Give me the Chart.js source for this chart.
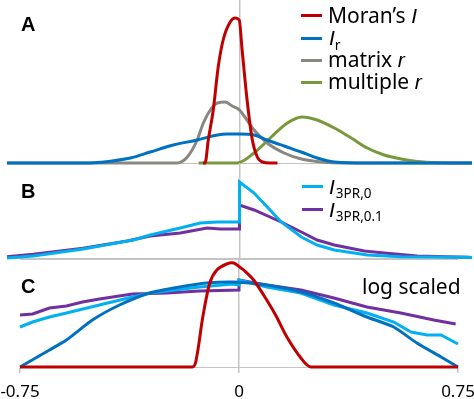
<!DOCTYPE html>
<html>
<head>
<meta charset="utf-8">
<script src="https://cdn.jsdelivr.net/npm/chart.js"></script>
<style>
  html, body { margin: 0; padding: 0; background: #fff; overflow: hidden; }
  #wrap { position: relative; width: 474px; height: 399px; font-family: "Noto Sans", sans-serif; color: #000; }
  #wrap canvas { position: absolute; left: 0; }
  .lbl { position: absolute; font: bold 20px "Liberation Sans", Arial, sans-serif; line-height: 1; }
  .leg { position: absolute; font-size: 21px; line-height: 1; white-space: nowrap; }
  .leg i { font-style: italic; font-family: "Liberation Sans", Arial, sans-serif; }
  .sub { font-size: 14px; position: relative; top: 5px; }
  .sub3 { font-size: 13.5px; position: relative; top: 4px; margin-left: 1px; }
  .sw { position: absolute; width: 21px; height: 3px; }
</style>
</head>
<body>
<div id="wrap">
  <canvas id="chartA" width="474" height="170" style="top:0"></canvas>
  <canvas id="chartB" width="474" height="110" style="top:156px"></canvas>
  <canvas id="chartC" width="474" height="160" style="top:252px"></canvas>

  <div class="lbl" style="left:21px;top:14px">A</div>
  <div class="lbl" style="left:21px;top:181px">B</div>
  <div class="lbl" style="left:21px;top:276px">C</div>

  <!-- legend A -->
  <div class="sw" style="left:301px;top:14px;background:#C00000"></div>
  <div class="sw" style="left:301px;top:37px;background:#0070C0"></div>
  <div class="sw" style="left:301px;top:59px;background:#888880"></div>
  <div class="sw" style="left:301px;top:81px;background:#77993C"></div>
  <div class="leg" style="left:328px;top:5px">Moran’s <i>I</i></div>
  <div class="leg" style="left:329px;top:27px"><i>I</i><span class="sub">r</span></div>
  <div class="leg" style="left:328px;top:49px">matrix <i>r</i></div>
  <div class="leg" style="left:328px;top:71px">multiple <i>r</i></div>

  <!-- legend B -->
  <div class="sw" style="left:302px;top:185px;background:#00B0F0"></div>
  <div class="sw" style="left:302px;top:208px;background:#7030A0"></div>
  <div class="leg" style="left:329px;top:176px"><i>I</i><span class="sub3">3PR,0</span></div>
  <div class="leg" style="left:329px;top:199px"><i>I</i><span class="sub3">3PR,0.1</span></div>

  <div class="leg" style="left:362px;top:276px">log scaled</div>
</div>

<script>
/* ---------- DATA ---------- */
// panel A (densities)
const moranAX = [-0.125, -0.118, -0.107, -0.09, -0.073, -0.056, -0.032, -0.015, -0.001, 0.009, 0.026, 0.044, 0.061, 0.078, 0.105, 0.13];
const moranAY = [0, 0, 23, 53, 96, 123, 141, 145, 143, 113, 63, 23, 6, 1, 0, 0];
const irAX = [-0.797, -0.512, -0.477, -0.374, -0.306, -0.227, -0.145, -0.076, -0.042, 0.002, 0.05, 0.095, 0.153, 0.212, 0.266, 0.325, 0.438, 0.797];
const irAY = [0, 0, 0.7, 5, 11, 18, 23, 28, 29, 29, 28, 23, 17, 11, 5, 1, 0, 0];
const matrixAX = [-0.797, -0.214, -0.179, -0.145, -0.124, -0.1, -0.076, -0.049, -0.025, 0, 0.016, 0.05, 0.095, 0.153, 0.212, 0.28, 0.349, 0.797];
const matrixAY = [0, 0, 6, 23, 40, 53, 60, 61, 57, 53, 47, 33, 20, 10, 4, 1, 0, 0];
const multipleAX = [-0.14, -0.008, 0.05, 0.109, 0.164, 0.215, 0.266, 0.325, 0.383, 0.438, 0.496, 0.554, 0.609, 0.692, 0.797];
const multipleAY = [0, 0, 10, 26, 40, 46, 43, 35, 25, 15, 8, 4, 1.5, 0.3, 0];

// panel B
const i3pr0BX = [-0.797, -0.707, -0.536, -0.364, -0.306, -0.203, -0.135, -0.076, 0, 0, 0.05, 0.095, 0.143, 0.212, 0.266, 0.325, 0.438, 0.554, 0.78, 0.797];
const i3pr0BY = [0, 2, 9, 18, 23, 30, 35, 36, 36, 76, 65, 51, 36, 21, 13, 8, 3, 1.3, 0.7, 0.5];
const i3pr01BX = [-0.797, -0.707, -0.536, -0.385, -0.306, -0.203, -0.111, -0.066, 0, 0, 0.05, 0.143, 0.212, 0.266, 0.325, 0.428, 0.496, 0.609, 0.78, 0.797];
const i3pr01BY = [1.3, 3.7, 9.7, 17, 22, 25, 30, 29, 29, 53, 48, 36, 26, 18, 13, 7, 5, 2, 0.7, 0.5];

// panel C (log scaled)
const moranCX = [-0.75, -0.159, -0.145, -0.124, -0.1, -0.076, -0.042, -0.018, 0.002, 0.016, 0.05, 0.095, 0.129, 0.164, 0.212, 0.246, 0.75];
const moranCY = [0, 0, 10, 50, 84, 97, 103, 104, 100, 97, 87, 67, 50, 30, 9, 0, 0];
const irCX = [-0.75, -0.649, -0.591, -0.502, -0.409, -0.306, -0.203, -0.111, -0.018, 0.095, 0.212, 0.325, 0.438, 0.53, 0.609, 0.692, 0.75];
const irCY = [0, 17, 27, 47, 62, 74, 80, 84, 85, 82, 75, 64, 50, 40, 24, 10, 0];
const i3pr0CX = [-0.75, -0.707, -0.649, -0.591, -0.478, -0.365, -0.306, -0.248, -0.135, -0.021, 0, 0, 0.095, 0.212, 0.325, 0.438, 0.53, 0.589, 0.644, 0.692, 0.75];
const i3pr0CY = [40, 45, 50, 54, 62, 70, 74, 76, 80, 83, 82, 87, 80, 74, 62, 54, 45, 35, 32, 32, 23];
const i3pr01CX = [-0.75, -0.707, -0.649, -0.591, -0.536, -0.478, -0.365, -0.248, -0.135, 0, 0, 0.095, 0.212, 0.325, 0.438, 0.554, 0.667, 0.742];
const i3pr01CY = [52, 53, 59, 61, 65, 68, 73, 74, 76, 77, 87, 82, 77, 69, 60, 54, 47, 43];

const xTicksC = [-0.75, 0, 0.75];

/* ---------- HELPERS ---------- */
const zip = (xs, ys) => xs.map((x, i) => ({ x: x, y: ys[i] }));
const GRID = '#c4c4c4';

function line(xs, ys, color, smooth) {
  return {
    data: zip(xs, ys),
    borderColor: color,
    borderWidth: 3,
    pointRadius: 0,
    fill: false,
    clip: 6,
    tension: smooth === 'mono' ? 0 : (smooth || 0),
    cubicInterpolationMode: smooth === 'mono' ? 'monotone' : 'default'
  };
}

function makeChart(id, datasets, o) {
  return new Chart(document.getElementById(id), {
    type: 'line',
    data: { datasets: datasets },
    options: {
      responsive: false,
      animation: false,
      events: [],
      layout: { padding: o.padding },
      plugins: { legend: { display: false }, tooltip: { enabled: false } },
      scales: {
        x: {
          type: 'linear',
          min: o.xMin,
          max: o.xMax,
          afterBuildTicks: s => { s.ticks = o.xTicks.map(v => ({ value: v })); },
          // edge labels may overhang; keep the plot width fixed by layout padding
          afterFit: s => {
            s.paddingLeft = 0;
            s.paddingRight = 0;
            if (o.axisHeight !== undefined) s.height = o.axisHeight;
          },
          grid: {
            color: c => (c.tick && c.tick.value === 0) ? GRID : 'rgba(0,0,0,0)',
            lineWidth: 1.5,
            drawTicks: o.labels,
            tickLength: 6,
            tickColor: GRID,
            tickWidth: 1.5
          },
          border: { display: true, color: GRID, width: 1 },
          ticks: {
            display: o.labels,
            color: '#000',
            padding: 9,
            maxRotation: 0,
            font: { family: '"Noto Sans", sans-serif', size: 17 },
            callback: v => String(v)
          }
        },
        y: {
          display: o.topLine,
          min: 0,
          max: o.yMax,
          afterBuildTicks: s => { s.ticks = [{ value: o.yMax }]; },
          grid: { color: GRID, drawTicks: false, lineWidth: 1 },
          border: { display: false },
          ticks: { display: false }
        }
      }
    }
  });
}

/* ---------- CHARTS ---------- */
makeChart('chartA', [
  line(moranAX, moranAY, '#C00000', 'mono'),
  line(irAX, irAY, '#0070C0', 'mono'),
  line(matrixAX, matrixAY, '#888880', 'mono'),
  line(multipleAX, multipleAY, '#77993C', 'mono')
], { xMin: -0.797, xMax: 0.797, yMax: 163, xTicks: [0], labels: false, topLine: false,
     padding: { top: 0, left: 7, right: 2, bottom: 7 } });

makeChart('chartB', [
  line(i3pr0BX, i3pr0BY, '#00B0F0', 0),
  line(i3pr01BX, i3pr01BY, '#7030A0', 0)
], { xMin: -0.797, xMax: 0.797, yMax: 95, xTicks: [0], labels: false, topLine: false,
     padding: { top: 7, left: 7, right: 2, bottom: 8 } });

makeChart('chartC', [
  line(moranCX, moranCY, '#C00000', 0.3),
  line(irCX, irCY, '#0070C0', 0.2),
  line(i3pr0CX, i3pr0CY, '#00B0F0', 0),
  line(i3pr01CX, i3pr01CY, '#7030A0', 0)
], { xMin: -0.75, xMax: 0.75, yMax: 108, xTicks: xTicksC, labels: true, topLine: true, axisHeight: 44,
     padding: { top: 7, left: 20, right: 16, bottom: 1 } });
</script>
</body>
</html>
